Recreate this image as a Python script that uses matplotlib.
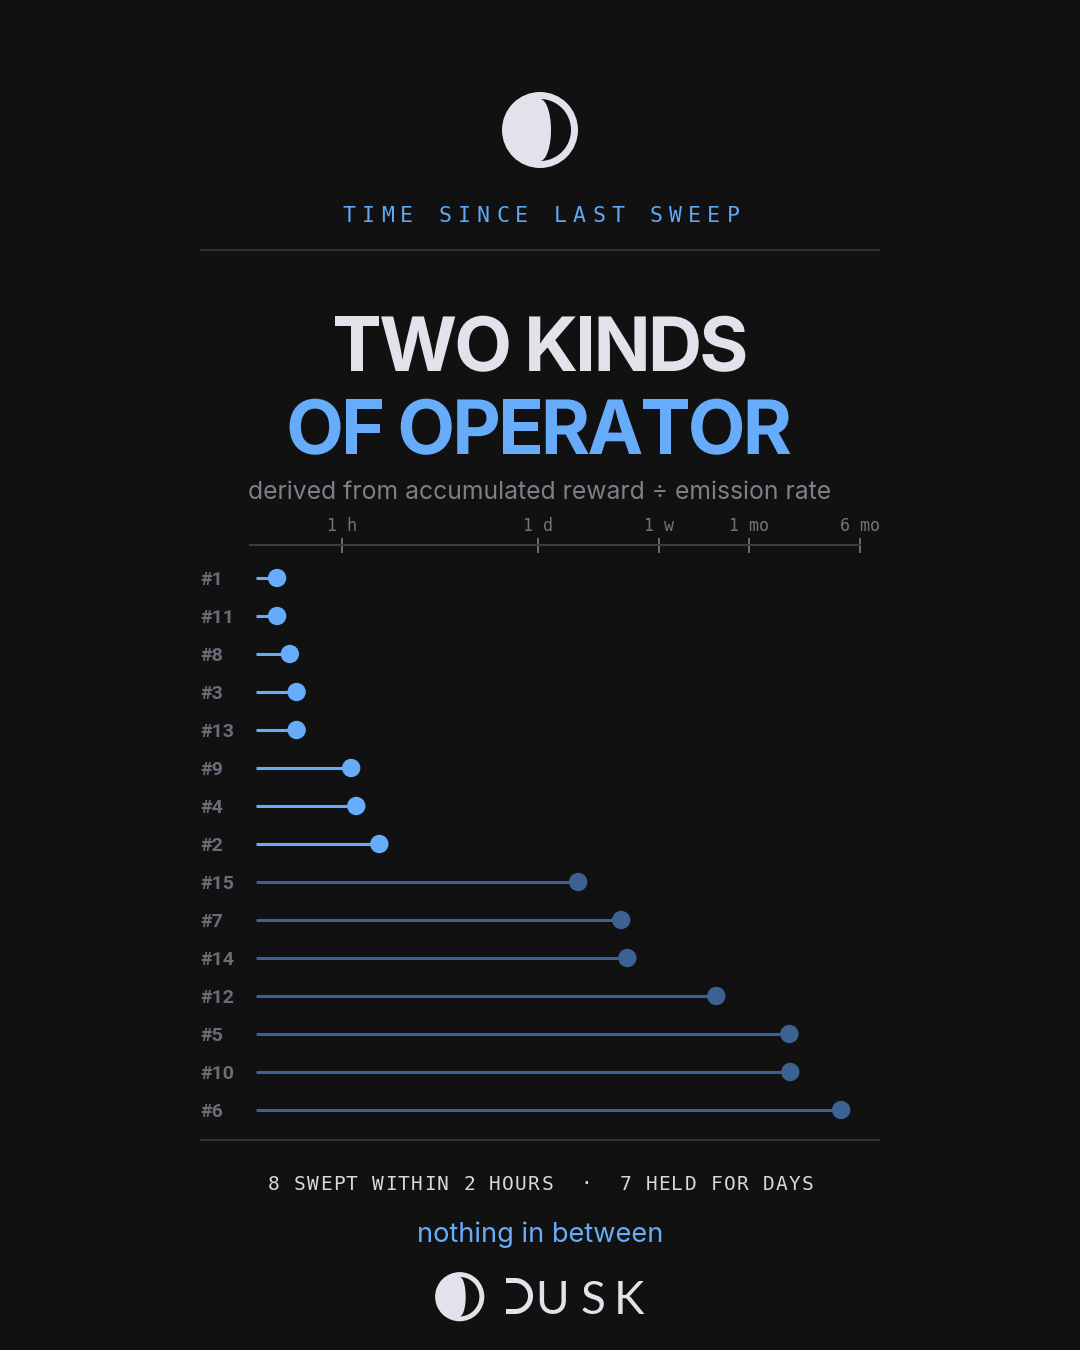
import numpy as np
import matplotlib.pyplot as plt
from matplotlib.patches import Circle, Polygon, PathPatch
from matplotlib.ticker import NullLocator
from matplotlib.textpath import TextPath
from matplotlib.font_manager import FontProperties
from matplotlib.transforms import Affine2D

# time since last sweep, in hours
operators = ['#1', '#11', '#8', '#3', '#13', '#9', '#4', '#2',
             '#15', '#7', '#14', '#12', '#5', '#10', '#6']
hours = [0.35, 0.35, 0.43, 0.48, 0.48, 1.16, 1.26, 1.83,
         45.6, 91.5, 101, 426, 1390, 1410, 3210]
tick_hours = [1, 24, 168, 720, 4320]
tick_labels = ['1 h', '1 d', '1 w', '1 mo', '6 mo']
start_hours = 0.25
fast_limit = 2

BG = '#111111'
LIGHT = '#e3e1e9'
BLUE = '#67acfb'
DARK_BLUE = '#3c6193'

fig = plt.figure(figsize=(10.8, 13.5), dpi=100, facecolor=BG)

# pixel canvas for decoration / text
bg = fig.add_axes([0, 0, 1, 1])
bg.set_xlim(0, 1080)
bg.set_ylim(1350, 0)
bg.axis('off')
bg.set_facecolor(BG)


def moon(cx, cy, R, r, a):
    bg.add_patch(Circle((cx, cy), R, color=LIGHT, lw=0))
    t = np.linspace(-np.pi / 2, np.pi / 2, 80)
    outer = np.column_stack([cx + r * np.cos(t), cy + r * np.sin(t)])
    inner = np.column_stack([cx + a * np.cos(t[::-1]), cy + r * np.sin(t[::-1])])
    bg.add_patch(Polygon(np.vstack([outer, inner]), closed=True, color=BG, lw=0))


def spaced(xc, y, s, pitch, **kw):
    x0 = xc - pitch * (len(s) - 1) / 2
    for i, ch in enumerate(s):
        bg.text(x0 + i * pitch, y, ch, ha='center', va='center', **kw)


def tracked(xc, base, s, size, track, color):
    # headline with tight letter spacing, drawn as glyph paths
    prop = FontProperties(family='Inter', weight='bold')
    glyphs = []
    for i, ch in enumerate(s):
        if ch == ' ':
            continue
        pre = TextPath((0, 0), s[:i + 1], size=size, prop=prop).get_extents()
        p = TextPath((0, 0), ch, size=size, prop=prop)
        e = p.get_extents()
        left = pre.x1 - e.width - i * track
        glyphs.append((p, left - e.x0, left, left + e.width))
    x_lo = glyphs[0][2]
    x_hi = glyphs[-1][3]
    shift = xc - (x_lo + x_hi) / 2
    for p, dx, _, _ in glyphs:
        tr = Affine2D().translate(dx + shift, 0).scale(1, -1).translate(0, base)
        bg.add_patch(PathPatch(p, transform=tr + bg.transData, color=color, lw=0))


moon(540, 130, 38, 31, 11)
spaced(541, 216.5, 'TIME SINCE LAST SWEEP', 19.2, color='#5fa8f5',
       fontsize=15.5, family='DejaVu Sans Mono')
bg.plot([200, 880], [250, 250], color='#2f2f34', lw=1.5, solid_capstyle='butt')

tracked(540, 371, 'TWO KINDS', 75, 2.8, LIGHT)
tracked(540, 454, 'OF OPERATOR', 75, 2.8, BLUE)
bg.text(540, 499, 'derived from accumulated reward \u00f7 emission rate',
        ha='center', va='baseline', color='#7f7e89', fontsize=17.8, family='Inter')

bg.plot([200, 880], [1140, 1140], color='#2f2f34', lw=1.5, solid_capstyle='butt')
spaced(540.5, 1184, '8 SWEPT WITHIN 2 HOURS  \u00b7  7 HELD FOR DAYS', 13.02,
       color='#d9d7df', fontsize=14, family='DejaVu Sans Mono')
bg.text(540, 1242, 'nothing in between', ha='center', va='baseline',
        color=BLUE, fontsize=19.6, family='Inter')

# bottom logo
moon(459.7, 1296.7, 24.6, 19.7, 6)
t = np.linspace(-np.pi / 2, np.pi / 2, 60)
cx, cy, rr = 515, 1296, 15.5
xs = np.concatenate([[506], cx + rr * np.cos(t), [506]])
ys = np.concatenate([[cy - rr], cy + rr * np.sin(t), [cy + rr]])
bg.plot(xs, ys, color=LIGHT, lw=3.6, solid_capstyle='butt', solid_joinstyle='round')
for x, ch in zip([552, 593, 629], 'USK'):
    bg.text(x, 1314, ch, ha='center', va='baseline', color=LIGHT,
            fontsize=33, family='Lato')

# chart
PX_DEC = 142.35
X_1H = 342
left_px = X_1H + PX_DEC * np.log10(start_hours)
right_px = 880
xmax = 10 ** ((right_px - X_1H) / PX_DEC)
top_px, bot_px = 559, 1129
ax = fig.add_axes([left_px / 1080, 1 - bot_px / 1350,
                   (right_px - left_px) / 1080, (bot_px - top_px) / 1350])
ax.set_facecolor('none')
ax.set_xscale('log')
ax.set_xlim(start_hours, xmax)
ax.set_ylim(len(operators) - 0.5, -0.5)

y = np.arange(len(operators))
cols = [BLUE if h < fast_limit else DARK_BLUE for h in hours]
ax.hlines(y, start_hours, hours, colors=cols, lw=2.2, clip_on=False)
ax.scatter(hours, y, s=175, c=cols, zorder=3, clip_on=False, linewidths=0)

for s in ['left', 'right', 'bottom']:
    ax.spines[s].set_visible(False)
ax.spines['top'].set_position(('outward', 10))
ax.spines['top'].set_color('#3a3a40')
ax.spines['top'].set_linewidth(1.5)
ax.spines['top'].set_bounds(10 ** ((250 - X_1H) / PX_DEC), tick_hours[-1])

ax.xaxis.tick_top()
ax.set_xticks(tick_hours, tick_labels)
ax.xaxis.set_minor_locator(NullLocator())
ax.tick_params(axis='x', direction='inout', length=10.8, width=1.1,
               color='#85848e', pad=2, labelsize=12, labelcolor='#74737d')
for lab in ax.get_xticklabels():
    lab.set_family('DejaVu Sans Mono')

ax.set_yticks(y, operators)
ax.tick_params(axis='y', length=0, pad=(left_px - 200) * 0.72,
               labelsize=14, labelcolor='#6c6b78')
for lab in ax.get_yticklabels():
    lab.set_ha('left')
    lab.set_va('center_baseline')
    lab.set_fontweight('bold')
    lab.set_family('Roboto')

fig.savefig('out.png', dpi=100, facecolor=BG)
